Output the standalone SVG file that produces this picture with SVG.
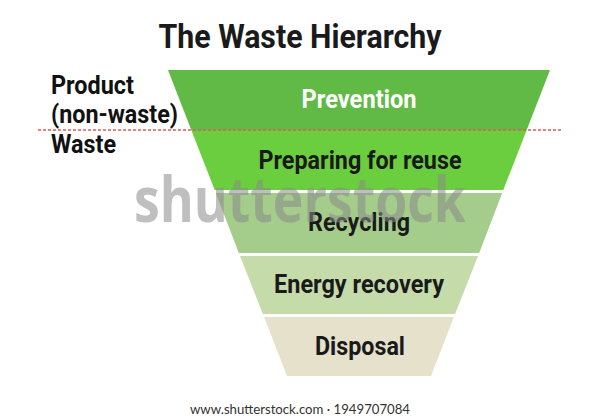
<svg xmlns="http://www.w3.org/2000/svg" width="600" height="420" viewBox="0 0 600 420">
<style>
.t{font-family:Roboto,"Liberation Sans",sans-serif;font-weight:bold;}
.lbl{font-size:25px;fill:#111;}
.band{font-size:25px;text-anchor:middle;fill:#1a1a1a;}
.wm{font-family:"Open Sans","Liberation Sans",sans-serif;font-weight:bold;font-size:62px;fill:#8a8a8a;fill-opacity:0.55;}
</style>
<rect width="600" height="420" fill="#fff"/>
<text class="t" x="300" y="48" text-anchor="middle" font-size="34" fill="#1a1a1a" textLength="283" lengthAdjust="spacingAndGlyphs">The Waste Hierarchy</text>
<g id="prevention">
<polygon points="168,70 550,70 526.7,130 191.3,130" fill="#60ba45"/>
<text class="t band" x="359" y="108" style="fill:#fff" textLength="115" lengthAdjust="spacingAndGlyphs">Prevention</text>
</g>
<g id="preparing">
<polygon points="191.3,130 526.7,130 503.3,190 214.7,190" fill="#6bce3e"/>
<text class="t band" x="360" y="169" textLength="203" lengthAdjust="spacingAndGlyphs">Preparing for reuse</text>
</g>
<g id="recycling">
<polygon points="215.8,193 502.2,193 479.2,253 238.8,253" fill="#a4cd8b"/>
<text class="t band" x="359" y="231" textLength="102" lengthAdjust="spacingAndGlyphs">Recycling</text>
</g>
<g id="energy">
<polygon points="240,256 478,256 455.1,314 262.9,314" fill="#c5dcaa"/>
<text class="t band" x="359" y="293" textLength="170" lengthAdjust="spacingAndGlyphs">Energy recovery</text>
</g>
<g id="disposal">
<polygon points="264.1,317 453.9,317 431,376 287,376" fill="#e5e1cb"/>
<text class="t band" x="360" y="355" textLength="90" lengthAdjust="spacingAndGlyphs">Disposal</text>
</g>
<g id="labels">
<text class="t lbl" x="51" y="94" textLength="83" lengthAdjust="spacingAndGlyphs">Product</text>
<text class="t lbl" x="51" y="123" textLength="127" lengthAdjust="spacingAndGlyphs">(non-waste)</text>
<text class="t lbl" x="51" y="153" textLength="65" lengthAdjust="spacingAndGlyphs">Waste</text>
</g>
<g id="connectors">
<line x1="38" y1="130" x2="562" y2="130" stroke="#e05a5a" stroke-width="1.6" stroke-dasharray="3,2"/>
</g>
<text class="wm" x="134" y="222" textLength="332" lengthAdjust="spacingAndGlyphs">shutterstock</text>
<text x="300" y="414" text-anchor="middle" font-family="Lato,'Liberation Sans',sans-serif" font-size="13" fill="#333" textLength="220" lengthAdjust="spacingAndGlyphs">www.shutterstock.com · 1949707084</text>
</svg>
